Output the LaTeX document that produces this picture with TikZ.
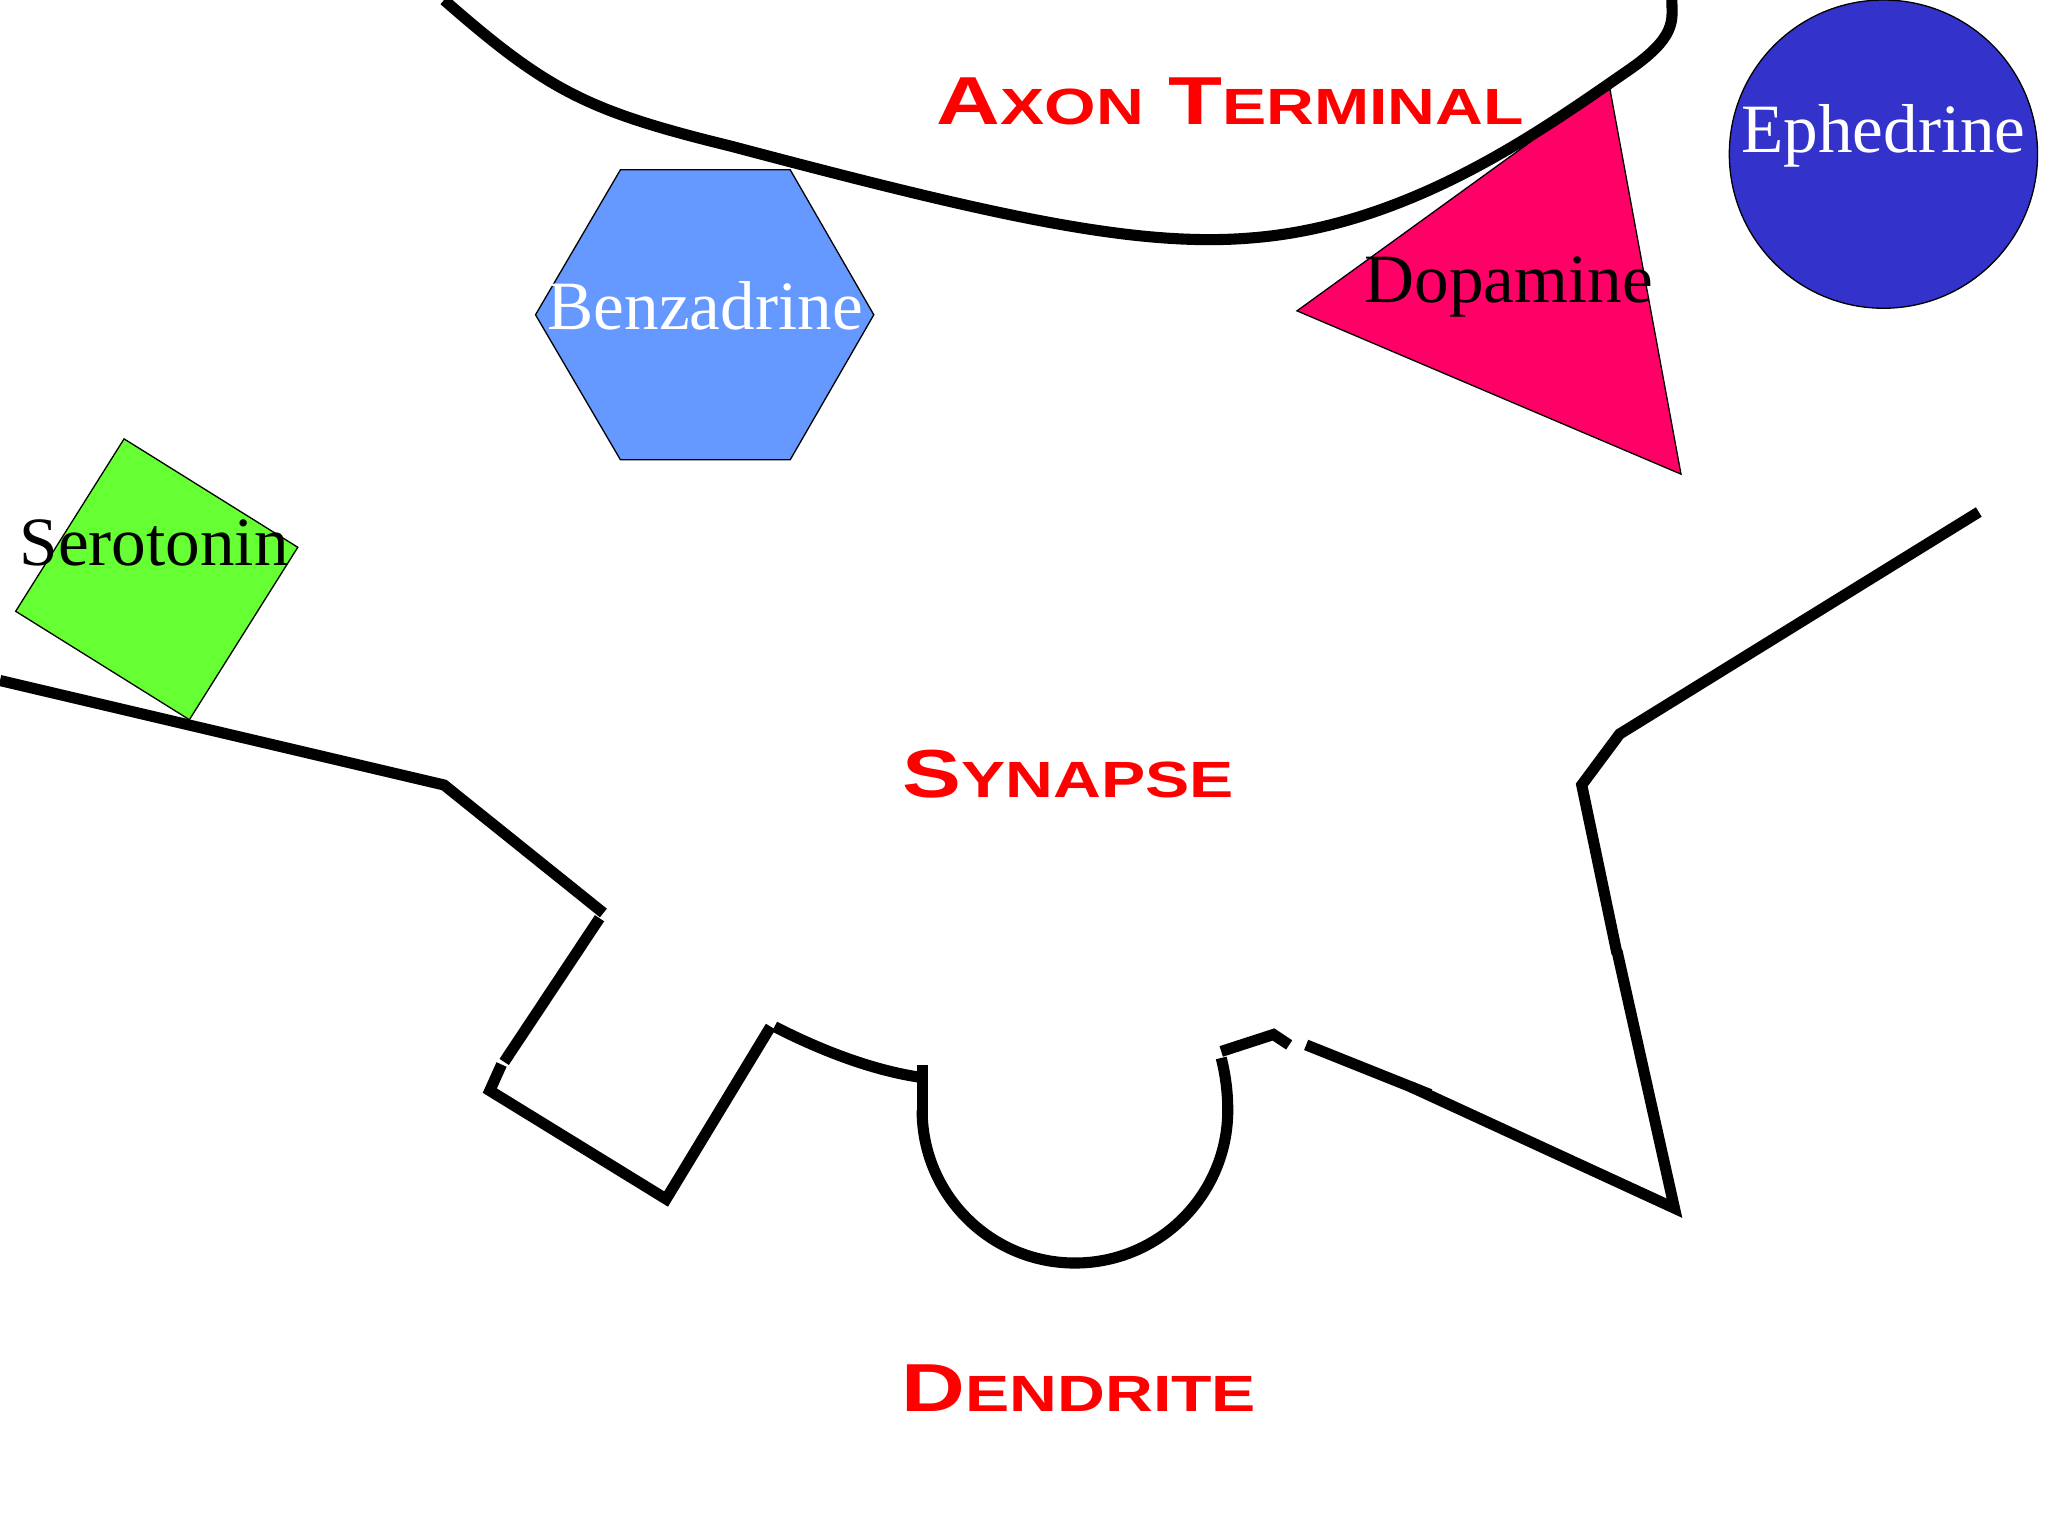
\documentclass[tikz,border=0pt]{standalone}
\usepackage{fontspec}
\usepackage{graphicx}
\setmainfont{Liberation Serif}
\newfontfamily\lblfont{Liberation Sans}
\begin{document}
\begin{tikzpicture}[x=1pt,y=-1pt,
  mem/.style={line width=8.5pt},
  mol/.style={draw=black,line width=1pt},
  molt/.style={font=\fontsize{53}{53}\selectfont},
  lbl/.style={text=red,font=\lblfont\bfseries\fontsize{52}{52}\selectfont}]
\useasboundingbox (0,0) rectangle (1568,1176);
\newcommand{\sca}[2]{#1{\fontsize{39}{39}\selectfont #2}}
\newcommand{\wide}[1]{\scalebox{1.3}[1]{#1}}
% molecules
\filldraw[mol,fill={rgb,255:red,102;green,153;blue,255}] (475,130)--(605,130)--(669,241)--(605,352)--(475,352)--(410,241)--cycle;
\node[molt,text=white] (benz) at (540,234) {Benzadrine};
\filldraw[mol,fill={rgb,255:red,255;green,0;blue,102}] (993,238)--(1232,65)--(1287,363)--cycle;
\node[molt] (dop) at (1155,220) {Dopamine};
\filldraw[mol,fill={rgb,255:red,51;green,51;blue,204}] (1442,118) circle (118);
\node[molt,text=white] (eph) at (1442,104) {Ephedrine};
\filldraw[mol,fill={rgb,255:red,102;green,255;blue,51}] (95,336)--(228,419)--(145,551)--(12,468)--cycle;
\node[molt] (ser) at (118,416) {Serotonin};
% axon membrane
\draw[mem] (340,0) .. controls (420,70) and (450,85) .. (560,112) .. controls (760,165) and (870,190) .. (960,182) .. controls (1080,172) and (1180,100) .. (1245,55) .. controls (1285,28) and (1280,15) .. (1280,0);
% dendrite membrane
\draw[mem] (0,521)--(340,601)--(462,699);
\draw[mem] (459,703)--(386,813);
\draw[mem] (384,815)--(375,835)--(510,918)--(590,786);
\draw[mem] (593,786) .. controls (630,805) and (670,820) .. (706,825);
\draw[mem] (706,815)--(706,860);
\draw[mem] (706,850) arc[start angle=180,end angle=0,radius=117] .. controls (940,835) and (938,822) .. (935,810);
\draw[mem] (935,805)--(975,792)--(987,800);
\draw[mem] (1000,800)--(1095,838);
\draw[mem] (1080,832)--(1282,925)--(1238,728);
\draw[mem] (1238,730)--(1211,601)--(1240,562)--(1515,392);
% labels
\node[lbl] (axon) at (942,78) {\wide{\sca{A}{XON} \sca{T}{ERMINAL}}};
\node[lbl] (syn) at (818,593) {\wide{\sca{S}{YNAPSE}}};
\node[lbl] (den) at (826,1063) {\wide{\sca{D}{ENDRITE}}};
\end{tikzpicture}
\end{document}
